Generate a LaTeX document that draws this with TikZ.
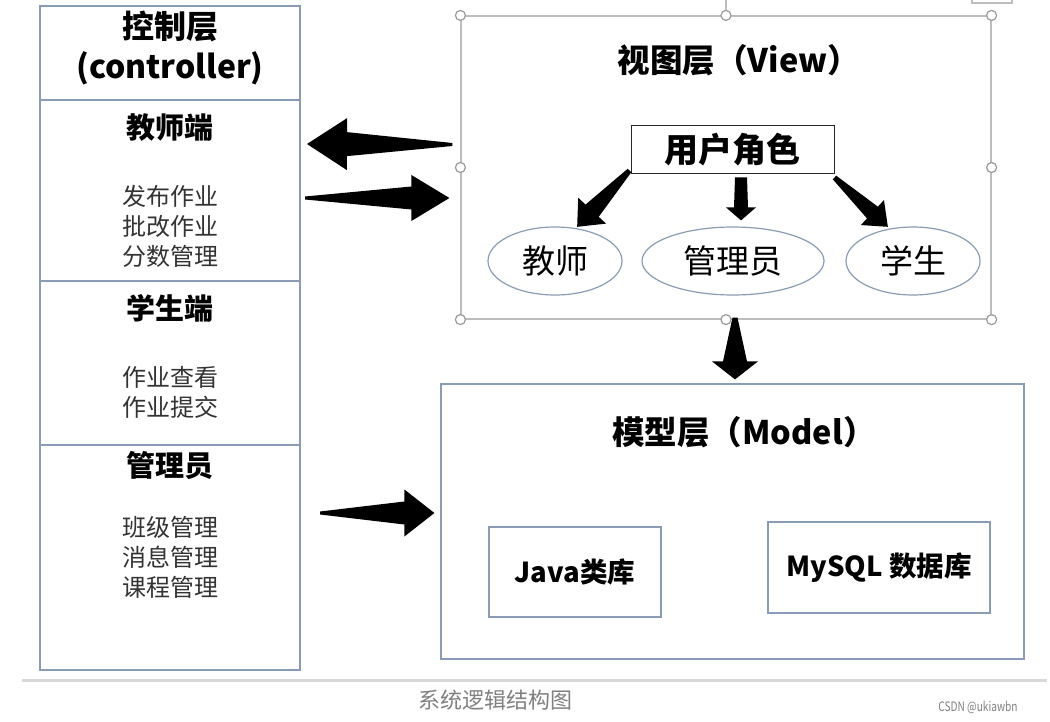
\documentclass[tikz,border=0pt]{standalone}
\usepackage{fontspec}
\setmainfont{Noto Sans CJK SC}
\usetikzlibrary{positioning,calc,shapes.geometric}

\definecolor{boxline}{HTML}{8A9CB5}
\definecolor{selline}{HTML}{BDBDBD}
\definecolor{handlecol}{HTML}{9A9A9A}
\definecolor{itemtext}{HTML}{333333}
\definecolor{captext}{HTML}{808080}

\tikzset{
 ctrlbox/.style={draw=boxline, line width=1.2pt, minimum width=260pt, outer sep=0pt, inner sep=0pt},
 ctrltitle/.style={font=\bfseries\fontsize{32}{40}\selectfont, align=center, inner sep=0pt},
 ctrlhead/.style={font=\bfseries\fontsize{29}{32}\selectfont, inner sep=0pt},
 ctrlitem/.style={font=\fontsize{24}{30}\selectfont, text=itemtext, align=center, inner sep=0pt},
 viewbox/.style={draw=selline, line width=1.2pt, inner sep=0pt},
 handle/.style={circle, draw=handlecol, fill=white, line width=1.2pt, minimum size=10pt, inner sep=0pt},
 layertitle/.style={font=\bfseries\fontsize{32.5}{36}\selectfont, inner sep=0pt},
 rolebox/.style={draw=black!85, line width=1pt, minimum width=203pt, minimum height=48pt,
  font=\bfseries\fontsize{34}{38}\selectfont, inner sep=0pt},
 roleell/.style={ellipse, draw=boxline, line width=1.2pt, minimum height=68pt,
  font=\fontsize{33}{36}\selectfont, inner sep=0pt},
 modelbox/.style={draw=boxline, line width=1.2pt, inner sep=0pt},
 libbox/.style={draw=boxline, line width=1.2pt, font=\bfseries\fontsize{27.5}{30}\selectfont, inner sep=0pt},
 arrowfill/.style={fill=black},
 captionline/.style={draw=black!15, line width=3pt},
 captiontext/.style={font=\fontsize{22}{26}\selectfont, text=captext, inner sep=0pt},
 wmtext/.style={font=\fontsize{13}{15}\selectfont, text=captext, inner sep=0pt, xscale=0.78}
}

% fat arrow: tail, tip, head length, head half width, shaft half width, tail half width
\newcommand{\fatarrow}[6]{%
 \coordinate (ft) at (#1);
 \coordinate (fp) at (#2);
 \coordinate (fb) at ($(fp)!#3!(ft)$);
 \fill[arrowfill] ($(ft)!#6!90:(fp)$) -- ($(fb)!#5!-90:(ft)$) -- ($(fb)!#4!-90:(ft)$) -- (fp)
  -- ($(fb)!#4!90:(ft)$) -- ($(fb)!#5!90:(ft)$) -- ($(ft)!#6!-90:(fp)$) -- cycle;
}

\begin{document}
\begin{tikzpicture}[x=1pt,y=-1pt]
 \useasboundingbox[fill=white] (0,0) rectangle (1050,722);

 % control layer
 \node[ctrlbox, minimum height=94pt, anchor=north west] (ctrl) at (40,6) {};
 \node[ctrlbox, minimum height=181pt, below=0pt of ctrl] (tchbox) {};
 \node[ctrlbox, minimum height=164pt, below=0pt of tchbox] (stubox) {};
 \node[ctrlbox, minimum height=225pt, below=0pt of stubox] (admbox) {};

 \node[ctrltitle] (ctrltext) at ([yshift=5pt]ctrl.center) {控制层\\(controller)};
 \node[ctrlhead] (tchhead) at ([yshift=-28pt]tchbox.north) {教师端};
 \node[ctrlitem] (tchitem) at ([yshift=-126pt]tchbox.north) {发布作业\\批改作业\\分数管理};
 \node[ctrlhead] (stuhead) at ([yshift=-27pt]stubox.north) {学生端};
 \node[ctrlitem] (stuitem) at ([yshift=-111pt]stubox.north) {作业查看\\作业提交};
 \node[ctrlhead] (admhead) at ([yshift=-21pt]admbox.north) {管理员};
 \node[ctrlitem] (admitem) at ([yshift=-112pt]admbox.north) {班级管理\\消息管理\\课程管理};

 % view layer (selected frame)
 \node[viewbox, minimum width=530pt, minimum height=303pt] (view) at (726,167.5) {};
 \coordinate (rot) at (726,0);
 \draw[draw=selline, line width=1.2pt] (view.north) -- (rot);
 \draw[draw=selline, line width=1.2pt] (972,0) -- (972,3) -- (1012,3) -- (1012,0);
 \foreach \a [count=\i] in {north west,north,north east,west,east,south west,south,south east}
  \node[handle] (hd\i) at (view.\a) {};

 \node[layertitle] (viewtitle) at (739,60) {视图层（View）};
 \node[rolebox] (role) at (732.5,150) {用户角色};
 \node[roleell, minimum width=134pt] (tch) at (555,261) {教师};
 \node[roleell, minimum width=182pt] (adm) at (733,261) {管理员};
 \node[roleell, minimum width=134pt] (stu) at (913,261) {学生};

 \fatarrow{$(role.south west)+(-1,-4)$}{$(tch.60)+(3,-1)$}{22pt}{19pt}{9pt}{2.5pt}
 \fatarrow{$(role.south)+(8.5,3)$}{$(adm.north)+(8,-6)$}{13pt}{15pt}{7pt}{6pt}
 \fatarrow{$(role.south east)+(0,3)$}{$(stu.120)+(-6,-1)$}{21pt}{17pt}{8pt}{2.5pt}

 % model layer
 \node[modelbox, minimum width=583pt, minimum height=275pt] (model) at (732.5,521.5) {};
 \node[layertitle] (modeltitle) at (744,432) {模型层（Model）};
 \node[libbox, minimum width=172pt, minimum height=90pt] (java) at (575,572) {Java类库};
 \node[libbox, minimum width=222pt, minimum height=91pt] (mysql) at (879,567.5) {MySQL 数据库};

 % arrows between layers
 \fatarrow{$(view.west)+(-8,-23)$}{$(tchbox.east)+(7,-46.5)$}{40pt}{26pt}{12pt}{1.5pt}
 \fatarrow{$(tchbox.east)+(5,7.5)$}{$(view.west)+(-11,30.5)$}{38pt}{23pt}{11.5pt}{1.5pt}
 \fatarrow{$(admbox.east)+(20,-44.5)$}{$(model.west)+(-6,-8.5)$}{30pt}{23.5pt}{11.5pt}{1.5pt}
 \fatarrow{$(view.south)+(9,-2)$}{$(model.north)+(2.5,-4)$}{18pt}{23pt}{12pt}{2.5pt}

 % caption
 \draw[captionline] (22,680) -- (1047,680);
 \node[captiontext] (caption) at (495,700) {系统逻辑结构图};
 \node[wmtext] (wm) at (978,707) {CSDN @ukiawbn};
\end{tikzpicture}
\end{document}
